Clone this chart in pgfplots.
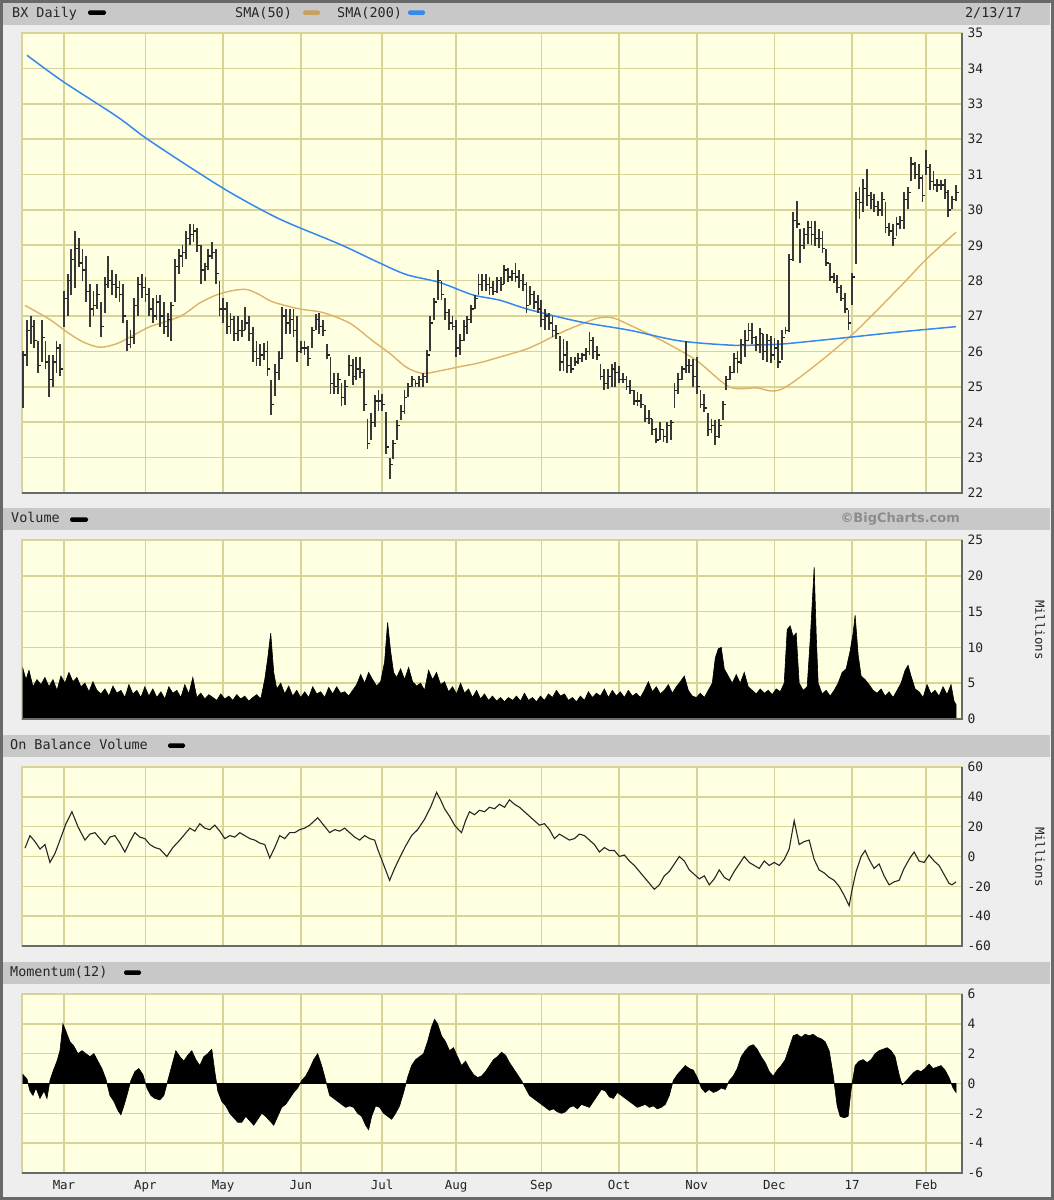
\documentclass[border=0pt]{standalone}
\usepackage{pgfplots}
\pgfplotsset{compat=1.18}
\usepackage{pgfplotstable}
\usepackage{fontspec}
\setmainfont{DejaVu Sans}
\newfontfamily\monof{DejaVu Sans Mono}
\definecolor{bgy}{RGB}{255,255,226}
\definecolor{gridc}{RGB}{216,212,152}
\definecolor{outer}{RGB}{238,238,238}
\definecolor{band}{RGB}{200,200,200}
\definecolor{frameg}{RGB}{105,105,105}
\definecolor{smaA}{RGB}{222,178,105}
\definecolor{smaB}{RGB}{55,135,240}
\definecolor{tickc}{RGB}{35,35,35}

\pgfplotstableread{
i l h c
0 24.4 26.0 25.9
1 25.6 26.9 26.6
2 26.2 27.0 26.7
3 26.1 26.9 26.3
4 25.4 26.3 25.6
5 25.7 26.9 26.4
6 25.5 26.3 25.7
7 24.7 25.9 25.2
8 25.0 25.9 25.7
9 25.4 26.3 26.1
10 25.3 26.2 25.5
11 26.7 27.7 27.5
12 27.0 28.2 28.0
13 27.6 28.9 28.6
14 27.8 29.4 28.9
15 28.4 29.2 28.5
16 28.0 28.9 28.3
17 27.4 28.7 27.7
18 26.7 27.9 27.2
19 27.0 27.7 27.3
20 27.2 27.9 27.6
21 26.4 27.4 26.7
22 27.1 28.1 27.9
23 27.8 28.7 28.0
24 27.6 28.3 27.9
25 27.5 28.2 27.8
26 27.4 28.0 27.6
27 26.8 27.9 27.0
28 26.0 26.9 26.2
29 26.1 26.6 26.4
30 26.2 27.5 27.3
31 27.0 28.1 27.9
32 27.5 28.2 27.8
33 27.4 28.1 27.6
34 27.0 27.8 27.2
35 26.8 27.5 27.0
36 26.9 27.6 27.4
37 26.7 27.6 27.0
38 26.5 27.4 26.7
39 26.4 27.1 26.9
40 26.3 27.4 27.3
41 27.4 28.6 28.4
42 28.2 28.9 28.7
43 28.4 29.0 28.8
44 28.6 29.4 29.2
45 29.0 29.6 29.3
46 29.1 29.6 29.4
47 28.8 29.5 29.0
48 27.9 29.0 28.3
49 28.0 28.5 28.4
50 28.3 28.9 28.7
51 28.6 29.1 28.8
52 27.9 28.9 28.2
53 27.0 28.0 27.2
54 26.8 27.5 27.2
55 26.5 27.4 26.7
56 26.5 27.1 26.9
57 26.3 27.0 26.5
58 26.3 27.0 26.6
59 26.4 26.9 26.6
60 26.6 27.25 26.8
61 26.3 27.0 26.5
62 25.7 26.7 26.0
63 25.6 26.3 25.8
64 25.6 26.2 25.9
65 25.75 26.25 26.0
66 25.3 26.3 25.5
67 24.2 25.2 24.5
68 24.75 25.65 25.4
69 25.2 26.0 25.8
70 25.8 27.25 27.0
71 26.5 27.2 26.8
72 26.5 27.2 26.9
73 26.4 27.2 26.6
74 25.7 27.0 26.0
75 25.95 26.3 26.1
76 25.9 26.3 26.1
77 25.6 26.15 25.8
78 26.1 26.7 26.6
79 26.6 27.05 26.9
80 26.5 27.1 26.7
81 26.45 26.9 26.6
82 25.8 26.2 25.9
83 24.8 25.85 25.1
84 24.8 25.4 25.0
85 24.8 25.4 25.2
86 24.45 25.1 24.7
87 24.5 25.2 25.0
88 25.3 25.9 25.6
89 25.05 25.8 25.3
90 25.2 25.85 25.5
91 25.24 25.85 25.4
92 24.33 25.5 24.5
93 23.24 24.1 23.4
94 23.5 24.25 24.0
95 23.86 24.76 24.6
96 24.33 24.9 24.6
97 24.33 24.8 24.5
98 23.1 24.3 23.3
99 22.4 23.0 22.8
100 22.96 23.5 23.4
101 23.5 24.05 23.9
102 24.05 24.5 24.3
103 24.24 24.9 24.7
104 24.7 25.1 25.0
105 25.0 25.3 25.2
106 25.0 25.2 25.1
107 25.0 25.3 25.2
108 25.0 25.4 25.3
109 25.1 26.05 25.9
110 26.0 27.0 26.8
111 26.9 27.5 27.4
112 27.45 28.3 28.0
113 27.45 28.0 27.6
114 26.9 27.5 27.1
115 26.6 27.2 26.8
116 26.6 27.0 26.7
117 25.85 26.9 26.1
118 25.9 26.5 26.3
119 26.3 26.9 26.7
120 26.5 27.0 26.9
121 26.8 27.3 27.2
122 27.2 27.6 27.5
123 27.6 28.2 27.9
124 27.7 28.2 28.0
125 27.7 28.2 27.9
126 27.6 28.1 27.8
127 27.6 28.0 27.7
128 27.65 28.1 28.0
129 27.7 28.1 27.9
130 27.9 28.45 28.3
131 27.95 28.35 28.1
132 28.0 28.3 28.2
133 27.95 28.5 28.1
134 27.8 28.3 28.0
135 27.7 28.2 27.9
136 27.1 27.95 27.3
137 27.3 27.85 27.6
138 27.2 27.7 27.4
139 27.1 27.6 27.2
140 26.7 27.45 26.9
141 26.6 27.2 27.0
142 26.6 27.1 26.8
143 26.4 27.0 26.6
144 26.35 26.75 26.5
145 25.45 26.45 25.7
146 25.45 26.35 25.9
147 25.4 26.3 25.6
148 25.4 25.85 25.5
149 25.6 25.85 25.7
150 25.65 25.95 25.8
151 25.7 25.95 25.9
152 25.75 26.1 26.0
153 25.9 26.55 26.3
154 25.8 26.4 26.0
155 25.75 26.15 25.9
156 25.2 25.65 25.3
157 24.9 25.5 25.1
158 24.95 25.5 25.3
159 25.0 25.65 25.5
160 25.0 25.7 25.4
161 25.1 25.6 25.2
162 25.1 25.4 25.2
163 24.9 25.3 25.0
164 24.8 25.2 24.9
165 24.5 24.9 24.6
166 24.45 24.85 24.6
167 24.4 24.8 24.5
168 24.0 24.5 24.1
169 23.95 24.35 24.1
170 23.65 24.1 23.8
171 23.4 23.85 23.5
172 23.5 24.0 23.8
173 23.45 23.8 23.6
174 23.4 24.0 23.9
175 23.5 24.05 24.0
176 24.4 25.1 24.9
177 24.8 25.4 25.2
178 25.2 25.6 25.5
179 25.4 26.3 25.6
180 25.4 25.8 25.6
181 25.0 25.8 25.3
182 24.8 25.85 25.0
183 24.4 24.9 24.5
184 24.3 24.8 24.4
185 23.6 24.25 23.8
186 23.7 24.1 23.9
187 23.35 24.05 23.6
188 23.55 24.1 23.9
189 24.05 24.6 24.5
190 24.9 25.3 25.2
191 25.2 25.6 25.4
192 25.4 25.95 25.8
193 25.4 26.0 25.7
194 25.65 26.35 26.2
195 25.85 26.6 26.3
196 26.3 26.8 26.6
197 26.2 26.8 26.4
198 26.0 26.45 26.2
199 25.95 26.66 26.5
200 25.76 26.5 26.0
201 25.7 26.5 26.3
202 25.66 26.45 25.9
203 25.76 26.37 26.1
204 25.52 26.32 25.7
205 25.76 26.6 26.4
206 26.5 26.7 26.6
207 26.56 28.74 28.6
208 28.55 29.93 29.7
209 29.5 30.26 29.6
210 28.5 29.45 29.0
211 28.9 29.5 29.3
212 29.03 29.7 29.5
213 29.0 29.7 29.3
214 28.98 29.7 29.2
215 28.93 29.45 29.2
216 28.79 29.4 28.9
217 28.41 28.89 28.5
218 28.0 28.5 28.1
219 27.94 28.22 28.0
220 27.65 28.17 27.8
221 27.42 27.89 27.5
222 27.08 27.65 27.2
223 26.61 27.18 26.8
224 27.32 28.22 28.1
225 28.46 30.5 30.3
226 29.74 30.64 30.2
227 29.93 30.88 30.6
228 30.12 31.16 30.4
229 30.02 30.5 30.3
230 29.93 30.45 30.1
231 29.83 30.26 30.0
232 29.83 30.5 30.3
233 29.36 30.21 29.5
234 29.27 29.64 29.4
235 28.98 29.6 29.2
236 29.27 29.79 29.6
237 29.45 29.83 29.7
238 29.45 30.5 30.3
239 30.02 30.64 30.5
240 30.83 31.5 31.3
241 30.88 31.35 31.0
242 30.6 31.3 30.9
243 30.21 31.0 30.4
244 31.0 31.68 31.2
245 30.55 31.3 30.8
246 30.55 31.1 30.7
247 30.5 30.88 30.7
248 30.55 30.85 30.7
249 30.31 30.88 30.5
250 29.79 30.55 30.0
251 30.02 30.4 30.3
252 30.26 30.69 30.5
}\price

\pgfplotstableread{
px v
25 27.3
50 26.9
67 26.55
83 26.27
100 26.12
117 26.22
133 26.45
150 26.7
167 26.85
183 27.03
200 27.37
217 27.6
233 27.72
247 27.75
260 27.6
273 27.4
300 27.2
323 27.1
350 26.8
373 26.3
390 25.95
407 25.55
423 25.38
440 25.45
457 25.55
480 25.68
500 25.84
530 26.1
563 26.55
597 26.93
613 26.95
630 26.75
663 26.3
697 25.75
730 25.0
757 24.97
785 24.97
850 26.4
900 27.8
927 28.6
957 29.37
}\smafifty

\pgfplotstableread{
px v
27 34.37
63 33.63
117 32.64
145 32.05
185 31.3
230 30.5
280 29.74
340 29.03
380 28.5
407 28.17
440 27.95
473 27.6
500 27.45
530 27.18
580 26.84
630 26.6
680 26.3
730 26.18
757 26.18
787 26.22
850 26.4
900 26.55
957 26.7
}\smatwohundred

\pgfplotstableread{
px v
23 7.0
26 5.5
29 6.8
33 4.5
37 5.5
41 4.8
45 5.8
49 4.5
53 5.5
57 4.0
61 6.0
65 5.0
69 6.5
73 5.2
77 5.8
81 4.5
85 5.0
89 3.8
93 5.2
97 4.0
101 3.5
105 4.2
109 3.2
113 4.6
117 3.6
121 4.0
125 3.0
129 4.8
133 3.5
137 4.0
141 3.0
145 4.5
149 3.2
153 4.2
157 3.0
161 3.8
165 2.8
169 4.5
173 3.6
177 4.0
181 3.0
185 4.8
189 3.5
193 5.8
197 3.0
201 3.6
205 2.8
209 3.4
213 3.0
217 2.6
221 3.5
225 2.8
229 3.2
233 2.6
237 3.4
241 2.8
245 3.2
249 2.5
253 3.0
257 3.4
261 2.8
265 5.5
268 8.5
271 12.0
274 6.5
277 4.2
281 5.0
285 3.5
289 4.6
293 3.2
297 4.0
301 3.0
305 3.8
309 3.0
313 4.5
317 3.5
321 3.8
325 3.0
329 4.4
333 3.5
337 4.5
341 3.6
345 3.8
349 3.2
353 4.0
357 4.8
361 6.2
365 5.0
369 6.5
373 5.5
377 4.6
381 5.2
385 8.0
388 13.5
391 9.5
394 6.5
397 5.8
401 7.0
405 5.5
409 7.2
413 5.2
417 4.6
421 5.0
425 4.0
429 6.8
433 5.5
437 6.5
441 4.8
445 5.2
449 3.8
453 4.5
457 3.5
461 5.0
465 3.6
469 4.2
473 3.0
477 4.0
481 2.8
485 3.5
489 2.6
493 3.2
497 2.5
501 3.0
505 2.4
509 3.0
513 2.6
517 3.2
521 2.5
525 3.6
529 2.6
533 3.0
537 2.4
541 3.2
545 2.6
549 3.5
553 3.0
557 4.0
561 3.2
565 3.5
569 2.6
573 3.0
577 2.4
581 3.2
585 2.6
589 3.8
593 3.0
597 3.6
601 3.2
605 4.2
609 3.0
613 4.0
617 3.2
621 3.8
625 3.0
629 4.0
633 3.2
637 3.6
641 3.0
645 4.0
649 5.2
653 3.8
657 4.5
661 3.5
665 4.0
669 4.8
673 3.6
677 4.5
681 5.2
685 6.0
689 4.0
693 3.2
697 3.0
701 3.6
705 3.0
709 4.0
713 5.0
716 8.5
719 9.8
722 10.0
725 7.0
729 6.0
733 5.0
737 6.2
741 5.0
745 6.5
749 4.5
753 4.0
757 3.5
761 4.2
765 3.6
769 4.0
773 3.4
777 4.2
781 3.8
785 5.0
788 12.5
791 13.0
794 11.5
797 12.0
800 5.0
804 4.0
808 4.5
811 11.0
813 16.0
815 21.2
817 12.0
819 5.0
823 3.5
827 4.0
831 3.2
835 4.0
839 5.0
843 6.5
847 7.0
851 9.5
854 12.0
856 14.5
859 9.0
862 6.0
866 5.5
870 4.8
874 4.0
878 3.6
882 4.2
886 3.2
890 3.8
894 3.0
898 4.0
902 5.0
906 6.8
909 7.5
912 6.0
916 4.2
920 3.8
924 3.0
928 4.8
932 3.5
936 4.0
940 3.2
944 4.5
948 3.4
952 4.8
955 2.5
957 2.0
}\volume

\pgfplotstableread{
px v
25 5.6
30 14
35 10
40 5
45 8
50 -4
55 2
60 11
66 22
72 30
78 20
85 11
90 15
95 16
100 12
105 8
110 13
115 14
120 9
125 3
130 10
135 16
140 13
145 12
150 8
155 6
160 5
167 0
173 6
180 11
185 15
190 19
195 17
200 22
205 19
210 18
215 21
220 17
225 12
230 14
235 13
240 16
245 14
250 12
255 11
260 9
265 8
270 -1
275 6
280 14
285 12
290 16
295 16
300 18
305 19
310 21
318 26
324 21
330 16
335 18
340 17
345 19
350 16
355 13
360 11
365 14
370 12
375 11
378 5
382 -2
386 -9
390 -16
395 -8
400 -1
406 7
412 14
418 18
425 25
431 33
437 43
441 38
445 32
450 27
455 21
459 18
462 16
466 24
470 30
475 28
480 31
485 30
490 33
495 32
500 35
505 33
510 38
515 35
520 33
525 30
530 27
535 24
540 21
545 22
550 18
555 12
560 15
565 13
570 11
575 12
580 15
585 14
590 11
595 8
600 3
605 6
610 4
615 4
620 0
625 1
630 -3
635 -6
640 -10
645 -14
650 -18
655 -22
660 -19
665 -13
670 -10
675 -5
680 0
685 -3
690 -9
695 -12
700 -15
705 -13
710 -19
715 -15
720 -9
725 -14
730 -16
735 -10
740 -5
745 0
750 -4
755 -6
760 -8
765 -3
770 -6
775 -4
780 -6
785 -2
790 5
795 24
800 8
805 10
810 11
815 -2
820 -9
825 -11
830 -14
835 -16
840 -20
845 -26
850 -33
853 -22
857 -10
862 0
866 4
870 -2
875 -8
880 -5
885 -13
890 -19
895 -17
900 -16
905 -8
910 -2
915 3
920 -3
925 -4
930 1
935 -3
940 -6
945 -12
950 -18
953 -19
957 -17
}\obv

\pgfplotstableread{
px v
23 0.6
27 0.3
30 -0.5
33 -0.8
36 -0.3
40 -1.0
44 -0.5
47 -1.0
50 0.2
53 0.8
57 1.5
60 2.2
63 4.0
66 3.5
70 2.8
74 2.5
78 2.0
82 2.2
86 2.0
90 1.8
94 2.0
98 1.5
102 1.0
106 0.3
110 -0.8
114 -1.2
118 -1.8
121 -2.1
124 -1.5
127 -0.8
131 0.2
135 0.8
139 1.0
143 0.6
147 -0.3
151 -0.8
155 -1.0
160 -1.1
164 -0.8
168 0.2
172 1.2
176 2.2
180 1.8
184 1.5
188 1.9
192 2.2
196 1.6
200 1.2
204 1.8
208 2.0
212 2.3
215 0.8
218 -0.5
222 -1.2
226 -1.5
230 -2.0
234 -2.3
238 -2.6
242 -2.6
246 -2.2
250 -2.5
254 -2.8
258 -2.4
262 -2.0
266 -2.2
270 -2.5
274 -2.8
278 -2.2
282 -1.6
286 -1.4
290 -1.0
294 -0.6
298 -0.3
302 0.2
306 0.5
310 1.0
314 1.6
318 2.0
322 1.2
326 0.2
330 -0.8
334 -1.0
338 -1.2
342 -1.4
346 -1.6
350 -1.5
354 -1.6
358 -2.0
362 -2.2
366 -2.8
369 -3.1
372 -2.2
376 -1.5
380 -1.6
384 -2.0
388 -2.2
392 -2.4
396 -2.0
400 -1.5
404 -0.6
408 0.4
412 1.2
416 1.6
420 1.8
424 2.0
428 2.8
432 3.8
435 4.3
438 4.0
442 3.2
446 2.8
450 2.2
454 2.4
458 1.8
462 1.2
466 1.5
470 1.0
474 0.6
478 0.4
482 0.5
486 0.8
490 1.2
494 1.6
498 1.8
502 2.1
506 1.9
510 1.4
514 1.0
518 0.6
522 0.2
526 -0.3
530 -0.8
534 -1.0
538 -1.2
542 -1.4
546 -1.6
550 -1.8
554 -1.7
558 -1.9
562 -2.0
566 -1.9
570 -1.6
574 -1.5
578 -1.7
582 -1.4
586 -1.5
590 -1.6
594 -1.2
598 -0.8
602 -0.4
606 -0.5
610 -0.9
614 -1.0
618 -0.6
622 -0.8
626 -1.0
630 -1.2
634 -1.4
638 -1.6
642 -1.5
646 -1.4
650 -1.6
654 -1.5
658 -1.7
662 -1.6
666 -1.4
670 -0.8
674 0.2
678 0.6
682 0.9
686 1.2
690 1.0
694 0.9
698 0.4
702 -0.3
706 -0.6
710 -0.4
714 -0.6
718 -0.5
722 -0.3
726 -0.4
730 0.2
734 0.5
738 1.0
742 1.8
746 2.2
750 2.5
754 2.6
758 2.3
762 1.8
766 1.4
770 0.8
774 0.5
778 0.9
782 1.2
786 1.6
790 2.4
794 3.2
798 3.3
802 3.1
806 3.3
810 3.2
814 3.3
818 3.1
822 3.0
826 2.8
830 2.2
834 0.6
838 -1.5
841 -2.2
845 -2.3
849 -2.2
852 -0.4
856 1.2
860 1.5
864 1.6
868 1.4
872 1.6
876 2.0
880 2.2
884 2.3
888 2.4
892 2.2
896 1.8
900 0.6
903 -0.1
906 0.1
910 0.4
914 0.7
918 0.9
922 0.8
926 1.0
930 1.3
934 1.0
938 1.1
942 1.2
946 0.9
950 0.4
954 -0.3
957 -0.6
}\momentum

\pgfplotsset{
  panel/.style={
    scale only axis, width=940bp,
    xmin=-0.35, xmax=253.7,
    axis background/.style={fill=bgy},
    xtick={11,33,54,75,97,117,140,161,182,203,224,244},
    xticklabels={},
    grid=major,
    major grid style={draw=gridc, line width=1.6bp},
    axis line style={draw=gridc, line width=1.6bp},
    major tick length=0pt,
    yticklabel pos=right,
    yticklabel style={font=\monof\fontsize{13}{13}\selectfont, text=tickc, anchor=west, xshift=2bp},
    /pgf/number format/assume math mode=true,
    after end axis/.code={\draw[frameg, line width=2bp] (rel axis cs:0,0) -- (rel axis cs:1,0) -- (rel axis cs:1,1);},
  },
}

\begin{document}
\begin{tikzpicture}[x=1bp, y=1bp]
% page background and frame
\fill[outer] (0,0) rectangle (1054,1200);
\draw[frameg, line width=3bp] (1.5,1.5) rectangle (1052.5,1198.5);
% header bands
\fill[band] (3,1175) rectangle (1050,1197);
\fill[band] (3,670) rectangle (1050,692);
\fill[band] (3,443) rectangle (1050,465);
\fill[band] (3,216) rectangle (1050,238);

% header texts
\node[anchor=base west, inner sep=0, font=\monof\fontsize{13.5}{14}\selectfont, text=black!85] at (12,1182) {BX Daily};
\fill[black, rounded corners=1.5bp] (88,1185) rectangle (106,1189.5);
\node[anchor=base west, inner sep=0, font=\monof\fontsize{13.5}{14}\selectfont, text=black!85] at (235,1182) {SMA(50)};
\fill[smaA!90!black, rounded corners=1.5bp] (303,1185) rectangle (320,1189.5);
\node[anchor=base west, inner sep=0, font=\monof\fontsize{13.5}{14}\selectfont, text=black!85] at (337,1182) {SMA(200)};
\fill[smaB, rounded corners=1.5bp] (408,1185) rectangle (425,1189.5);
\node[anchor=base east, inner sep=0, font=\monof\fontsize{13.5}{14}\selectfont, text=black!85] at (1022,1182) {2/13/17};

\node[anchor=base west, inner sep=0, font=\monof\fontsize{13.5}{14}\selectfont, text=black!85] at (11,677) {Volume};
\fill[black, rounded corners=1.5bp] (70,678) rectangle (88,682.5);
\node[anchor=base east, inner sep=0, font=\bfseries\fontsize{13}{14}\selectfont, text=black!45] at (960,677) {©BigCharts.com};

\node[anchor=base west, inner sep=0, font=\monof\fontsize{13.5}{14}\selectfont, text=black!85] at (10,450) {On Balance Volume};
\fill[black, rounded corners=1.5bp] (168,452) rectangle (185,456.5);

\node[anchor=base west, inner sep=0, font=\monof\fontsize{13.5}{14}\selectfont, text=black!85] at (10,223) {Momentum(12)};
\fill[black, rounded corners=1.5bp] (124,225) rectangle (141,229.5);

\node[rotate=-90, font=\monof\fontsize{12.5}{13}\selectfont, text=tickc] at (1040,570) {Millions};
\node[rotate=-90, font=\monof\fontsize{12.5}{13}\selectfont, text=tickc] at (1040,343) {Millions};

% ---------- price panel ----------
\begin{axis}[panel, at={(22bp,707bp)}, anchor=south west, height=460bp,
  ymin=22, ymax=35, ytick={22,23,...,35}]
\addplot[smaA, line width=1.4bp, smooth] table[x expr=(\thisrow{px}-23.3)/3.704, y=v] {\smafifty};
\addplot[smaB, line width=1.5bp, smooth] table[x expr=(\thisrow{px}-23.3)/3.704, y=v] {\smatwohundred};
\addplot[black!85, only marks, mark=-, mark size=1.5bp, mark options={xshift=1.4bp, line width=1.3bp},
  error bars/.cd, y dir=both, y explicit, error mark=none,
  error bar style={line width=1.8bp, black!78}]
  table[x=i, y=c, y error plus expr=\thisrow{h}-\thisrow{c}, y error minus expr=\thisrow{c}-\thisrow{l}] {\price};
\end{axis}

% ---------- volume panel ----------
\begin{axis}[panel, at={(22bp,481bp)}, anchor=south west, height=179bp,
  ymin=0, ymax=25, ytick={0,5,...,25}]
\addplot[fill=black, draw=black, line width=0.6bp] table[x expr=(\thisrow{px}-23.3)/3.704, y=v] {\volume} \closedcycle;
\end{axis}

% ---------- OBV panel ----------
\begin{axis}[panel, at={(22bp,254bp)}, anchor=south west, height=179bp,
  ymin=-60, ymax=60, ytick={-60,-40,...,60}]
\addplot[black!85, line width=1.1bp] table[x expr=(\thisrow{px}-23.3)/3.704, y=v] {\obv};
\end{axis}

% ---------- momentum panel ----------
\begin{axis}[panel, at={(22bp,27bp)}, anchor=south west, height=179bp,
  ymin=-6, ymax=6, ytick={-6,-4,...,6},
  xticklabels={Mar,Apr,May,Jun,Jul,Aug,Sep,Oct,Nov,Dec,17,Feb},
  xticklabel style={font=\monof\fontsize{12.5}{13}\selectfont, text=tickc, anchor=base, yshift=-17bp}]
\addplot[fill=black, draw=black, line width=0.6bp] table[x expr=(\thisrow{px}-23.3)/3.704, y=v] {\momentum} \closedcycle;
\end{axis}
\end{tikzpicture}
\end{document}
